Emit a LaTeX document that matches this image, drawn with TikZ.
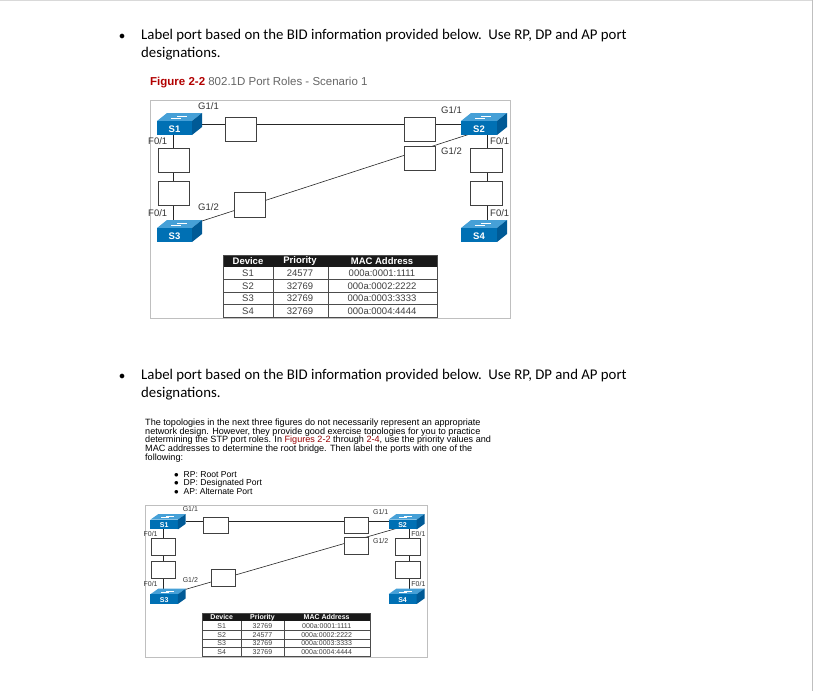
\documentclass[tikz,border=0pt]{standalone}
\usepackage{fontspec}
\setmainfont{Carlito}
\newfontfamily\arial{Liberation Sans}
\definecolor{swf}{RGB}{0,112,180}
\definecolor{swt}{RGB}{70,160,215}
\definecolor{sws}{RGB}{0,90,150}
\begin{document}
\begin{tikzpicture}[x=1pt,y=-1pt,
  swtop/.style={fill=swt},
  swfront/.style={fill=swf},
  swside/.style={fill=sws},
  pbox/.style={draw=black!75,fill=white,line width=0.5pt},
  link/.style={draw=black!85,line width=0.6pt}]
\useasboundingbox (0,0) rectangle (815,691);
\fill[white] (0,0) rectangle (815,691);
\draw[black!25] (812,0) -- (812,691);
\draw[black!15] (0,0.5) -- (812,0.5);
% ---- helpers
\newcommand\swt[6]{%
  \fill[swtop] (#1,#2+8) -- (#1+10,#2) -- (#3,#2) -- (#3-10,#2+8) -- cycle;
  \fill[swfront] (#1,#2+8) rectangle (#3-10,#4);
  \fill[swside] (#3-10,#2+8) -- (#3,#2) -- (#3,#4-8) -- (#3-10,#4) -- cycle;
  \draw[white,line width=0.4pt] (#1+14,#2+5) -- (#1+24,#2+5) (#1+20,#2+3) -- (#1+30,#2+3);
  \node[font=\arial\bfseries\figfs,text=white,inner sep=0pt] (#6) at ({(#1+#3-10)/2},{#4-6}) {#5};}
\newcommand\fig[9]{% prefix, xoff, yoff, fontsize cmd, p1,p2,p3,p4, sx/sy
\begin{scope}[shift={(#2,#3)},#9]
  \def\figfs{#4}
  \draw[black!25] (0,0) rectangle (360,218);
  \draw[link] (52,24) -- (311,24);
  \draw[link] (23,35) -- (23,120);
  \draw[link] (337,35) -- (337,120);
  \draw[link] (52,121) -- (323,33);
  \swt{7}{13}{52}{35}{S1}{#1s1}
  \swt{311}{13}{357}{35}{S2}{#1s2}
  \swt{7}{120}{52}{142}{S3}{#1s3}
  \swt{311}{120}{357}{142}{S4}{#1s4}
  \draw[pbox] (75,17) rectangle (106,41);
  \draw[pbox] (254,17) rectangle (285,41);
  \draw[pbox] (254,46) rectangle (285,70);
  \draw[pbox] (8,48) rectangle (39,72);
  \draw[pbox] (8,81) rectangle (39,105);
  \draw[pbox] (320,48) rectangle (352,72);
  \draw[pbox] (320,81) rectangle (352,105);
  \draw[pbox] (84,92) rectangle (115,117);
  \begin{scope}[every node/.style={font=\arial#4,text=black!80,inner sep=0pt,anchor=west}]
  \node (#1a) at (48,6) {G1/1};
  \node (#1b) at (291,10) {G1/1};
  \node (#1c) at (291,51) {G1/2};
  \node (#1d) at (48,107) {G1/2};
  \node (#1e) at (-2,41) {F0/1};
  \node (#1f) at (-2,113) {F0/1};
  \node (#1g) at (340,41) {F0/1};
  \node (#1h) at (340,113) {F0/1};
  \end{scope}
  % table
  \fill[black!90] (73,155) rectangle (287,167);
  \draw[black!70,line width=0.4pt] (73,155) rectangle (287,217);
  \foreach \yy in {179.5,192,204.5} \draw[black!70,line width=0.4pt] (73,\yy) -- (287,\yy);
  \foreach \xx in {123,178} \draw[black!70,line width=0.4pt] (\xx,167) -- (\xx,217);
  \begin{scope}[every node/.style={font=\arial#4,inner sep=0pt}]
  \node[text=white,font=\arial\bfseries#4] (#1h1) at (98,161) {Device};
  \node[text=white,font=\arial\bfseries#4] (#1h2) at (150,161) {Priority};
  \node[text=white,font=\arial\bfseries#4] (#1h3) at (232,161) {MAC Address};
  \foreach \r/\d/\p/\m [count=\i] in {0/S1/#5/000a:0001:1111,1/S2/#6/000a:0002:2222,2/S3/#7/000a:0003:3333,3/S4/#8/000a:0004:4444}{
    \node[text=black!75] (#1d\i) at (98,173.5+12.5*\r) {\d};
    \node[text=black!75] (#1p\i) at (150,173.5+12.5*\r) {\p};
    \node[text=black!75] (#1m\i) at (232,173.5+12.5*\r) {\m};}
  \end{scope}
\end{scope}}
% ---- top text
\node[font=\large] (b1) at (122,37) {$\bullet$};
\node[font=\fontsize{14.8}{18}\selectfont,anchor=north west,align=left,inner sep=0pt] (t1) at (141,29)
 {Label port based on the BID information provided below.\ \ Use RP, DP and AP port\\designations.};
\node[anchor=west,inner sep=0pt,font=\arial\fontsize{11.5}{13}\selectfont] (cap) at (150,83)
 {\textcolor{red!70!black}{\bfseries Figure 2-2} \textcolor{black!60}{802.1D Port Roles - Scenario 1}};
\fig{u}{150}{100}{\fontsize{9.5}{11}\selectfont}{24577}{32769}{32769}{32769}{x=1pt,y=-1pt}
% ---- bottom text
\node[font=\large] (b2) at (122,377) {$\bullet$};
\node[font=\fontsize{14.8}{18}\selectfont,anchor=north west,align=left,inner sep=0pt] (t2) at (141,369)
 {Label port based on the BID information provided below.\ \ Use RP, DP and AP port\\designations.};
\node[anchor=north west,align=left,inner sep=0pt,font=\arial\fontsize{9.1}{8.6}\selectfont] (par) at (145,419)
 {The topologies in the next three figures do not necessarily represent an appropriate\\
 network design. However, they provide good exercise topologies for you to practice\\
 determining the STP port roles. In \textcolor{red!60!black}{Figures 2-2} through \textcolor{red!60!black}{2-4}, use the priority values and\\
 MAC addresses to determine the root bridge. Then label the ports with one of the\\
 following:};
\node[anchor=north west,align=left,inner sep=0pt,font=\arial\fontsize{8.6}{8.8}\selectfont] (lst) at (174,471)
 {$\bullet$\ \ RP: Root Port\\ $\bullet$\ \ DP: Designated Port\\ $\bullet$\ \ AP: Alternate Port};
\fig{l}{145}{505}{\fontsize{7}{8}\selectfont}{32769}{24577}{32769}{32769}{x=0.783pt,y=-0.697pt}
\end{tikzpicture}
\end{document}
